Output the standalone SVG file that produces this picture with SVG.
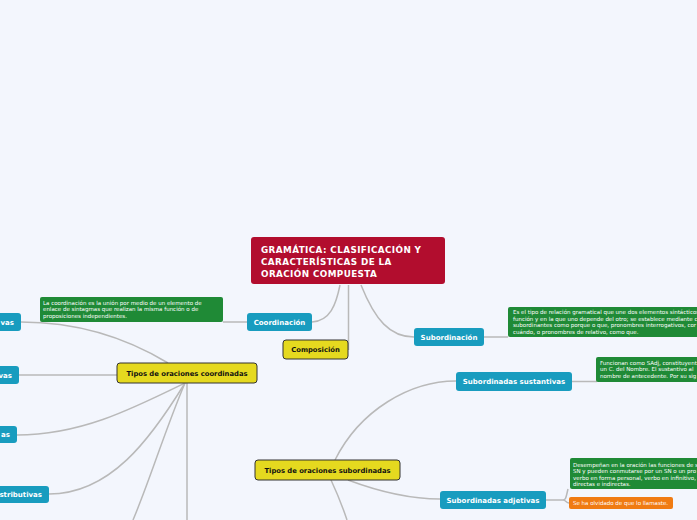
<svg xmlns="http://www.w3.org/2000/svg" width="697" height="520" viewBox="0 0 697 520">
<style>
.bg{fill:#f3f6fd}
.c{fill:none;stroke:#b9b9b9;stroke-width:1.5}
.title{fill:#b20d2e}
.tt{font-family:"DejaVu Sans",Verdana,sans-serif;font-weight:bold;font-size:8.8px;letter-spacing:0.4px;fill:#fff}
.blue{fill:#189cbf}
.bt{font-family:"DejaVu Sans",Verdana,sans-serif;font-weight:bold;font-size:7px;fill:#fff;text-anchor:middle}
.yel{fill:#e5d91f;stroke:#333;stroke-width:1}
.yt{font-family:"DejaVu Sans",Verdana,sans-serif;font-weight:bold;font-size:6.8px;fill:#111;text-anchor:middle}
.green{fill:#1f8a36}
.orange{fill:#f07b12}
.nt{font-family:"DejaVu Sans",Verdana,sans-serif;font-size:5.5px;fill:#fff}
</style>
<rect class="bg" x="0" y="0" width="697" height="520"/>
<g id="connectors">
<path class="c" d="M340,285 C336,305 330,321 312,322"/>
<path class="c" d="M348.5,285 L348.5,350"/>
<path class="c" d="M361,285 C375,320 390,337 414,337"/>
<path class="c" d="M223,322 L247,322"/>
<path class="c" d="M484,337 L508,337"/>
<path class="c" d="M168,363 C130,340 80,322 21,322"/>
<path class="c" d="M117,375 L19,375"/>
<path class="c" d="M185,383 C130,410 80,435 17,435"/>
<path class="c" d="M185,383 C150,440 110,494 49,494"/>
<path class="c" d="M185,383 C165,430 150,480 133,520"/>
<path class="c" d="M187,383 L187,520"/>
<path class="c" d="M335,460 C360,410 410,381 456,381"/>
<path class="c" d="M348,480 C380,492 410,499 440,499"/>
<path class="c" d="M331,480 C338,495 343,508 347,520"/>
<path class="c" d="M572,381.5 L597,381.5"/>
<path class="c" d="M546,500 L563,500 C566,500 566,497 568,489 M563,500 C566,500 566,503 569,503"/>
</g>
<g id="title">
<rect class="title" x="251" y="237" width="194" height="47" rx="3"/>
<text class="tt" x="261" y="253">GRAMÁTICA: CLASIFICACIÓN Y</text>
<text class="tt" x="261" y="265">CARACTERÍSTICAS DE LA</text>
<text class="tt" x="261" y="277">ORACIÓN COMPUESTA</text>
</g>
<g id="coordinacion">
<rect class="blue" x="247" y="313" width="65" height="18" rx="3"/>
<text class="bt" x="279.5" y="324.5">Coordinación</text>
</g>
<g id="coordinacion-note">
<rect class="green" x="40" y="297" width="183" height="25" rx="2"/>
<text class="nt" x="43" y="304.5">La coordinación es la unión por medio de un elemento de</text>
<text class="nt" x="43" y="311">enlace de sintagmas que realizan la misma función o de</text>
<text class="nt" x="43" y="317.5">proposiciones independientes.</text>
</g>
<g id="composicion">
<rect class="yel" x="283" y="340" width="65" height="19" rx="3"/>
<text class="yt" x="315.5" y="352">Composición</text>
</g>
<g id="subordinacion">
<rect class="blue" x="414" y="328" width="70" height="18" rx="3"/>
<text class="bt" x="449" y="339.5">Subordinación</text>
</g>
<g id="subordinacion-note">
<rect class="green" x="508" y="307" width="195" height="30" rx="2"/>
<text class="nt" x="513" y="314">Es el tipo de relación gramatical que une dos elementos sintácticos</text>
<text class="nt" x="513" y="320.5">función y en la que uno depende del otro; se establece mediante c</text>
<text class="nt" x="513" y="327">subordinantes como porque o que, pronombres interrogativos, cor</text>
<text class="nt" x="513" y="333.5">cuándo, o pronombres de relativo, como que.</text>
</g>
<g id="tipos-coordinadas">
<rect class="yel" x="117" y="363" width="140" height="20" rx="3"/>
<text class="yt" x="187" y="375.5">Tipos de oraciones coordinadas</text>
</g>
<g id="coord-1">
<rect class="blue" x="-10" y="313" width="31" height="18" rx="3"/>
<text class="bt" x="14" y="324.5" style="text-anchor:end">vas</text>
</g>
<g id="coord-2">
<rect class="blue" x="-10" y="366" width="29" height="18" rx="3"/>
<text class="bt" x="12" y="377.5" style="text-anchor:end">vas</text>
</g>
<g id="coord-3">
<rect class="blue" x="-10" y="426" width="27" height="17" rx="3"/>
<text class="bt" x="10" y="437" style="text-anchor:end">as</text>
</g>
<g id="coord-4">
<rect class="blue" x="-10" y="486" width="59" height="17" rx="3"/>
<text class="bt" x="42" y="497" style="text-anchor:end">stributivas</text>
</g>
<g id="tipos-subordinadas">
<rect class="yel" x="255" y="460" width="145" height="20" rx="3"/>
<text class="yt" x="327.5" y="472.5">Tipos de oraciones subordinadas</text>
</g>
<g id="sustantivas">
<rect class="blue" x="456" y="372" width="116" height="19" rx="3"/>
<text class="bt" x="514" y="384">Subordinadas sustantivas</text>
</g>
<g id="sustantivas-note">
<rect class="green" x="596" y="357" width="110" height="25" rx="2"/>
<text class="nt" x="600" y="364.5">Funcionan como SAdj, constituyent</text>
<text class="nt" x="600" y="371">un C. del Nombre. El sustantivo al</text>
<text class="nt" x="600" y="377.5">nombre de antecedente. Por su sig</text>
</g>
<g id="adjetivas">
<rect class="blue" x="440" y="491" width="106" height="18" rx="3"/>
<text class="bt" x="493" y="502.5">Subordinadas adjetivas</text>
</g>
<g id="adjetivas-note">
<rect class="green" x="570" y="458" width="135" height="31" rx="2"/>
<text class="nt" x="573" y="467">Desempeñan en la oración las funciones de s</text>
<text class="nt" x="573" y="473.4">SN y pueden conmutarse por un SN o un pro</text>
<text class="nt" x="573" y="479.8">verbo en forma personal, verbo en infinitivo,</text>
<text class="nt" x="573" y="486.2">directas e indirectas.</text>
</g>
<g id="adjetivas-example">
<rect class="orange" x="569" y="497" width="104" height="12" rx="2"/>
<text class="nt" x="573" y="505">Se ha olvidado de que lo llamaste.</text>
</g>
</svg>
